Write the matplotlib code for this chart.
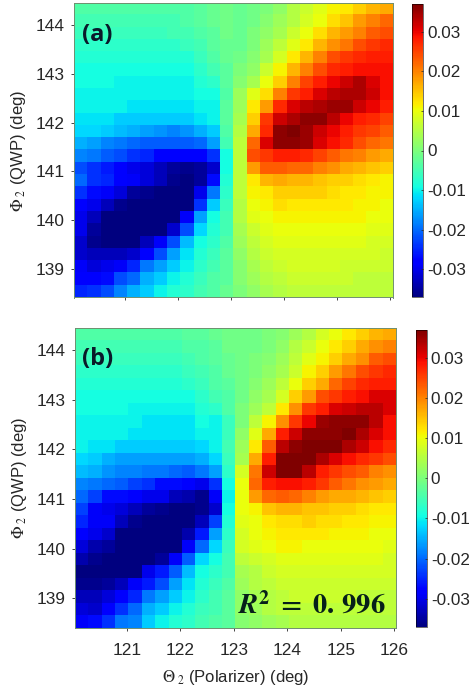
#!/usr/bin/env python3

import numpy as np
from matplotlib import pyplot as plt

plt.rcParams['font.family'] = ['Liberation Sans', 'DejaVu Sans']
plt.rcParams['mathtext.fontset'] = 'stix'

# values, in units of 0.001, top row first
panel_a = [
    [-4,-4,-4,-4,-4,-4,-4,-4,-4,-3,-2,-1,-2,-1,0,2,5,7,9,11,12,14,16,17],
    [-5,-5,-5,-5,-5,-5,-5,-5,-4,-3,-2,-1,-2,-1,1,3,5,8,10,13,15,18,20,22],
    [-6,-6,-6,-6,-6,-6,-6,-5,-5,-4,-3,-1,-2,0,2,4,7,10,13,16,18,20,23,24],
    [-7,-7,-7,-7,-7,-7,-7,-7,-6,-5,-3,-2,-2,0,3,6,9,12,16,19,21,24,26,27],
    [-8,-8,-8,-8,-8,-8,-8,-8,-8,-6,-4,-2,-1,1,4,8,12,16,20,24,26,27,28,28],
    [-9,-9,-9,-9,-9,-9,-9,-9,-9,-7,-5,-3,0,2,7,11,16,20,24,27,28,29,29,29],
    [-9,-9,-9,-10,-10,-10,-10,-10,-10,-8,-7,-3,1,4,10,14,20,25,28,30,32,34,31,29],
    [-10,-10,-10,-10,-10,-10,-10,-10,-10,-9,-9,-4,3,9,13,20,26,28,31,33,34,34,32,29],
    [-10,-10,-10,-10,-11,-11,-11,-11,-11,-10,-10,-3,3,12,18,27,31,33,34,35,35,32,30,28],
    [-11,-11,-11,-13,-13,-13,-13,-13,-13,-11,-10,-3,4,14,26,32,34,36,36,33,30,28,27,25],
    [-12,-12,-13,-14,-15,-16,-17,-18,-17,-15,-13,-4,5,17,27,36,37,35,32,30,28,26,25,23],
    [-15,-16,-18,-19,-20,-21,-21,-21,-21,-20,-16,-5,6,22,31,36,36,35,31,29,27,24,22,21],
    [-18,-19,-21,-22,-24,-25,-28,-28,-28,-28,-24,-9,6,24,26,28,28,27,25,23,21,20,18,17],
    [-22,-24,-26,-28,-30,-31,-33,-35,-36,-35,-32,-9,6,18,23,23,22,22,20,19,17,16,15,14],
    [-20,-24,-25,-28,-29,-31,-33,-36,-37,-35,-27,-8,6,12,16,17,16,16,15,14,14,13,12,11],
    [-24,-27,-29,-31,-35,-36,-37,-37,-37,-30,-19,-7,6,11,12,14,14,14,14,13,12,12,11,11],
    [-28,-30,-33,-36,-37,-37,-37,-37,-37,-24,-13,-6,5,10,11,13,12,12,12,12,12,11,11,10],
    [-30,-33,-37,-37,-37,-37,-37,-37,-29,-16,-9,-5,5,9,10,11,11,11,11,11,11,11,10,10],
    [-30,-35,-37,-37,-37,-37,-37,-32,-22,-12,-8,-5,4,7,9,10,10,10,10,10,10,10,9,9],
    [-32,-36,-37,-37,-37,-33,-29,-22,-14,-9,-7,-4,3,6,8,9,9,9,9,9,9,9,8,8],
    [-32,-33,-33,-33,-32,-28,-22,-16,-11,-8,-6,-3,2,5,7,8,8,8,8,8,8,8,8,7],
    [-29,-31,-30,-29,-25,-19,-16,-13,-10,-7,-5,-3,1,4,6,7,8,8,8,8,7,7,7,7],
    [-28,-28,-27,-22,-20,-15,-13,-10,-8,-6,-4,-3,1,3,5,6,7,7,7,7,7,6,6,6],
    [-25,-24,-22,-18,-15,-13,-10,-8,-7,-5,-4,-2,0,2,4,5,6,6,6,6,6,6,6,6],
]

panel_b = [
    [-4,-4,-4,-4,-4,-4,-4,-4,-3,-3,-2,-1,-1,-1,0,1,3,5,8,10,12,14,16,17],
    [-5,-5,-5,-5,-5,-5,-5,-5,-4,-4,-3,-1,-1,-1,0,2,5,7,10,12,14,17,19,20],
    [-6,-6,-6,-6,-6,-6,-6,-6,-5,-4,-3,-2,-1,0,1,3,6,9,11,14,17,19,23,24],
    [-7,-7,-7,-7,-7,-7,-7,-7,-6,-5,-4,-2,-1,0,2,4,7,11,14,18,21,24,26,27],
    [-8,-8,-8,-8,-8,-8,-8,-8,-7,-6,-4,-3,-1,1,3,6,10,14,17,22,25,27,28,28],
    [-9,-9,-9,-9,-9,-9,-9,-9,-9,-7,-5,-4,-1,2,4,8,14,18,24,26,28,29,31,31],
    [-9,-9,-9,-9,-10,-10,-10,-10,-10,-8,-7,-4,0,3,6,12,19,26,28,31,32,33,33,31],
    [-10,-10,-10,-10,-10,-11,-11,-11,-11,-9,-10,-6,0,6,11,19,26,30,35,36,36,36,33,29],
    [-10,-10,-10,-10,-11,-11,-11,-11,-11,-10,-10,-6,2,9,17,28,32,36,36,36,37,34,31,29],
    [-10,-11,-11,-13,-13,-13,-13,-13,-13,-12,-10,-5,3,12,23,33,36,37,37,37,34,32,29,27],
    [-12,-13,-15,-16,-16,-16,-16,-16,-16,-15,-12,-6,4,17,28,37,37,37,34,31,29,27,26,24],
    [-14,-15,-17,-18,-18,-19,-19,-20,-21,-19,-16,-7,8,21,32,37,37,33,28,26,24,23,20,19],
    [-18,-19,-20,-21,-23,-24,-27,-27,-28,-30,-24,-9,10,22,28,29,29,28,26,23,21,19,18,17],
    [-20,-23,-27,-27,-28,-30,-30,-33,-34,-36,-29,-10,10,18,22,23,22,20,18,17,17,16,15,14],
    [-23,-29,-30,-31,-33,-35,-36,-37,-37,-36,-32,-9,10,11,15,16,16,15,15,14,14,13,12,12],
    [-25,-29,-29,-33,-36,-37,-37,-37,-37,-33,-23,-8,9,10,12,13,13,14,13,13,12,12,11,11],
    [-28,-30,-32,-37,-37,-37,-37,-37,-34,-26,-16,-7,8,10,11,12,12,12,12,11,11,11,10,10],
    [-31,-34,-35,-37,-37,-37,-37,-37,-29,-20,-12,-6,8,9,10,11,11,10,10,10,10,10,10,9],
    [-34,-36,-37,-37,-37,-37,-35,-29,-21,-12,-9,-5,6,7,8,9,9,9,9,9,9,9,9,8],
    [-37,-37,-37,-37,-37,-30,-26,-21,-14,-9,-7,-5,4,5,7,8,8,8,8,8,8,8,8,8],
    [-36,-36,-35,-33,-29,-26,-22,-16,-11,-8,-6,-4,3,5,6,7,7,7,7,7,7,7,7,7],
    [-33,-33,-31,-28,-25,-19,-16,-13,-10,-7,-5,-3,2,4,5,6,7,7,7,7,7,6,6,6],
    [-31,-32,-28,-24,-20,-15,-13,-10,-8,-6,-5,-3,2,3,5,6,6,6,6,6,6,6,6,6],
    [-29,-27,-24,-19,-18,-13,-10,-8,-7,-5,-4,-3,1,2,3,4,5,5,5,5,5,5,5,5],
]

x_ticks = [121, 122, 123, 124, 125, 126]
y_ticks = [139, 140, 141, 142, 143, 144]
cbar_ticks = [-0.03, -0.02, -0.01, 0, 0.01, 0.02, 0.03]
cbar_labels = ['-0.03', '-0.02', '-0.01', '0', '0.01', '0.02', '0.03']

W, H = 474, 692
TEXT = '#262626'
EDGE = '#6f8f70'


def box(left, top, right, bottom):
    return [left / W, 1 - bottom / H, (right - left) / W, (bottom - top) / H]


def heatmap(fig, values, ax_box, cbar_box, extent, xlabels):
    ax = fig.add_axes(box(*ax_box))
    im = ax.imshow(np.array(values) * 0.001, cmap='jet', vmin=-0.037, vmax=0.037,
                   extent=extent, aspect='auto', interpolation='nearest', origin='upper')
    ax.set_xticks(x_ticks)
    ax.set_yticks(y_ticks)
    ax.tick_params(length=2.5, width=0.6, color=TEXT, labelcolor=TEXT, labelsize=12.4)
    ax.tick_params(axis='y', pad=4)
    ax.tick_params(axis='x', pad=8)
    if not xlabels:
        ax.set_xticklabels([])
    ax.set_ylabel(r'$\Phi_{\ 2}$ (QWP) (deg)', fontsize=12, color=TEXT, labelpad=6)
    for s in ax.spines.values():
        s.set_color(EDGE)
        s.set_linewidth(0.7)

    cax = fig.add_axes(box(*cbar_box))
    cb = fig.colorbar(im, cax=cax)
    cb.set_ticks(cbar_ticks)
    cb.set_ticklabels(cbar_labels)
    cb.ax.tick_params(direction='in', length=1.5, width=0.5, color=TEXT,
                      labelcolor=TEXT, labelsize=12.3, pad=3)
    cb.outline.set_linewidth(0.4)
    return ax


fig = plt.figure(figsize=(W / 100, H / 100), dpi=100, facecolor='white')

ax_a = heatmap(fig, panel_a, (74, 3.3, 393, 297.5), (412.3, 4, 423.3, 297),
               (120.03, 126.05, 138.42, 144.44), False)
ax_b = heatmap(fig, panel_b, (75, 328.3, 395.7, 628.3), (415.7, 330, 426.7, 626.7),
               (120.03, 126.03, 138.4, 144.44), True)
ax_b.set_xlabel(r'$\Theta_{\ 2}$ (Polarizer) (deg)', fontsize=12, color=TEXT, labelpad=7)

fig.text(82 / W, 1 - 41 / H, '(a)', family='Open Sans', weight='bold', fontsize=17,
         color='#0a1a2a')
fig.text(82 / W, 1 - 365 / H, '(b)', family='Open Sans', weight='bold', fontsize=17,
         color='#0a1a2a')
fig.text(238 / W, 1 - 613 / H, r'$\mathbfit{R}^{\mathbf{2}}\mathbf{\ =\ 0.\,996}$',
         fontsize=20.5, color='#06201a')

fig.savefig('out.png', dpi=100)
